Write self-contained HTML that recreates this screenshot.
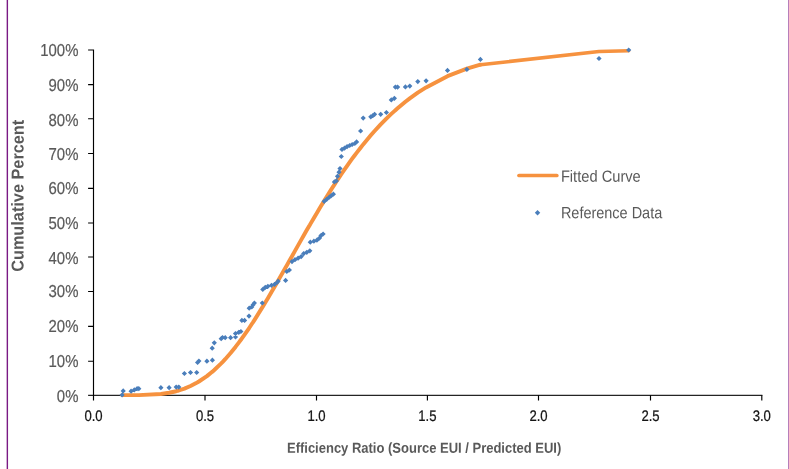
<!DOCTYPE html>
<html lang="en"><head><meta charset="utf-8"><title>Efficiency Ratio Cumulative Distribution</title>
<style>html,body{margin:0;padding:0;background:#fff}body{width:789px;height:469px;overflow:hidden}svg{display:block}text{font-family:"Liberation Sans",Arial,sans-serif}</style></head><body>
<svg width="789" height="469" viewBox="0 0 789 469">
<rect x="0" y="0" width="789" height="469" fill="#ffffff"/>
<rect x="6.65" y="0" width="1.4" height="469" fill="#7a1a84"/>
<rect x="788" y="0" width="1" height="469" fill="#b57fbb"/>
<path d="M88.1,395.3H762.4" fill="none" stroke="#242424" stroke-width="1.35"/>
<path d="M93.5,49.4V400.6M88.1,361.20H93.5M88.1,326.35H93.5M88.1,291.45H93.5M88.1,256.95H93.5M88.1,223.00H93.5M88.1,188.40H93.5M88.1,153.45H93.5M88.1,118.75H93.5M88.1,84.65H93.5M88.1,50.00H93.5M205.00,395.3V400.6M316.50,395.3V400.6M427.40,395.3V400.6M538.50,395.3V400.6M650.50,395.3V400.6M761.80,395.3V400.6" fill="none" stroke="#000" stroke-width="1.15"/>
<text transform="translate(78.4,402.00) rotate(0.03) scale(0.862,1)" font-size="17.30" fill="#595959" stroke="#595959" stroke-width="0.2" text-anchor="end">0%</text>
<text transform="translate(78.4,367.00) rotate(0.03) scale(0.862,1)" font-size="17.30" fill="#595959" stroke="#595959" stroke-width="0.2" text-anchor="end">10%</text>
<text transform="translate(78.4,332.00) rotate(0.03) scale(0.862,1)" font-size="17.30" fill="#595959" stroke="#595959" stroke-width="0.2" text-anchor="end">20%</text>
<text transform="translate(78.4,297.00) rotate(0.03) scale(0.862,1)" font-size="17.30" fill="#595959" stroke="#595959" stroke-width="0.2" text-anchor="end">30%</text>
<text transform="translate(78.4,264.00) rotate(0.03) scale(0.862,1)" font-size="17.30" fill="#595959" stroke="#595959" stroke-width="0.2" text-anchor="end">40%</text>
<text transform="translate(78.4,229.00) rotate(0.03) scale(0.862,1)" font-size="17.30" fill="#595959" stroke="#595959" stroke-width="0.2" text-anchor="end">50%</text>
<text transform="translate(78.4,194.00) rotate(0.03) scale(0.862,1)" font-size="17.30" fill="#595959" stroke="#595959" stroke-width="0.2" text-anchor="end">60%</text>
<text transform="translate(78.4,160.00) rotate(0.03) scale(0.862,1)" font-size="17.30" fill="#595959" stroke="#595959" stroke-width="0.2" text-anchor="end">70%</text>
<text transform="translate(78.4,126.00) rotate(0.03) scale(0.862,1)" font-size="17.30" fill="#595959" stroke="#595959" stroke-width="0.2" text-anchor="end">80%</text>
<text transform="translate(78.4,91.00) rotate(0.03) scale(0.862,1)" font-size="17.30" fill="#595959" stroke="#595959" stroke-width="0.2" text-anchor="end">90%</text>
<text transform="translate(78.4,56.00) rotate(0.03) scale(0.862,1)" font-size="17.30" fill="#595959" stroke="#595959" stroke-width="0.2" text-anchor="end">100%</text>
<text transform="translate(93.50,421.00) rotate(0.03) scale(0.858,1)" font-size="15.30" fill="#151515" stroke="#151515" stroke-width="0.25" text-anchor="middle">0.0</text>
<text transform="translate(205.00,421.00) rotate(0.03) scale(0.858,1)" font-size="15.30" fill="#151515" stroke="#151515" stroke-width="0.25" text-anchor="middle">0.5</text>
<text transform="translate(316.50,421.00) rotate(0.03) scale(0.858,1)" font-size="15.30" fill="#151515" stroke="#151515" stroke-width="0.25" text-anchor="middle">1.0</text>
<text transform="translate(427.40,421.00) rotate(0.03) scale(0.858,1)" font-size="15.30" fill="#151515" stroke="#151515" stroke-width="0.25" text-anchor="middle">1.5</text>
<text transform="translate(538.50,421.00) rotate(0.03) scale(0.858,1)" font-size="15.30" fill="#151515" stroke="#151515" stroke-width="0.25" text-anchor="middle">2.0</text>
<text transform="translate(650.50,421.00) rotate(0.03) scale(0.858,1)" font-size="15.30" fill="#151515" stroke="#151515" stroke-width="0.25" text-anchor="middle">2.5</text>
<text transform="translate(761.80,421.00) rotate(0.03) scale(0.858,1)" font-size="15.30" fill="#151515" stroke="#151515" stroke-width="0.25" text-anchor="middle">3.0</text>
<text transform="translate(424.1,452.7) rotate(0.03) scale(0.903,1)" font-size="14.40" font-weight="bold" fill="#595959" text-anchor="middle">Efficiency Ratio (Source EUI / Predicted EUI)</text>
<text transform="translate(23.6,195.8) rotate(-89.97) scale(0.947,1)" font-size="17.20" font-weight="bold" fill="#595959" text-anchor="middle">Cumulative Percent</text>
<path d="M480.4,64.7 L599.0,51.5 L628.7,50.8" fill="none" stroke="#f6923f" stroke-width="3.5" stroke-linecap="round" stroke-linejoin="round"/>
<path d="M122.1,395.1 L123.2,395.1 L131.1,395.1 L134.3,395.1 L137.1,395.1 L138.8,395.1 L160.9,394.0 L169.1,392.8 L176.2,391.2 L178.8,390.5 L184.4,388.6 L190.5,386.0 L196.7,382.8 L197.6,382.3 L198.9,381.5 L206.9,376.1 L212.2,371.8 L212.4,371.7 L214.3,370.0 L221.2,363.4 L222.5,362.1 L225.2,359.2 L230.6,353.0 L235.5,346.9 L238.8,342.6 L240.9,339.8 L241.9,338.4 L244.6,334.6 L249.0,328.3 L249.2,328.0 L251.8,324.0 L253.1,322.1 L254.4,320.1 L262.3,307.4 L262.8,306.6 L265.3,302.5 L267.9,298.2 L271.5,292.0 L274.6,286.7 L277.1,282.4 L278.1,280.6 L285.6,267.5 L286.8,265.4 L289.4,260.8 L292.0,256.2 L295.0,250.9 L298.1,245.4 L301.2,239.9 L303.7,235.5 L306.8,230.1 L309.8,225.0 L310.3,224.1 L313.9,217.9 L316.9,212.9 L319.5,208.5 L321.0,206.0 L323.1,202.6 L324.2,200.8 L326.7,196.7 L329.3,192.6 L331.3,189.4 L333.4,186.2 L334.4,184.6 L336.4,181.5 L337.5,179.9 L339.0,177.6 L340.0,176.1 L341.3,174.2 L342.0,173.2 L344.6,169.4 L347.1,165.8 L349.7,162.2 L352.2,158.7 L354.8,155.2 L356.6,152.9 L360.6,147.7 L363.2,144.4 L370.8,135.3 L372.8,133.0 L374.6,131.0 L380.7,124.4 L386.4,118.6 L391.3,113.9 L394.4,111.1 L395.4,110.2 L397.6,108.3 L405.4,101.8 L409.8,98.4 L417.8,92.7 L426.1,87.4 L447.5,76.2 L466.9,68.7 L480.4,64.7" fill="none" stroke="#f6923f" stroke-width="3.95" stroke-linecap="round" stroke-linejoin="round"/>
<path d="M122.1,392.4l2.6,2.6l-2.6,2.6l-2.6,-2.6zM123.2,388.3l2.6,2.6l-2.6,2.6l-2.6,-2.6zM131.1,388.6l2.6,2.6l-2.6,2.6l-2.6,-2.6zM134.3,387.3l2.6,2.6l-2.6,2.6l-2.6,-2.6zM137.1,386.1l2.6,2.6l-2.6,2.6l-2.6,-2.6zM138.8,386.1l2.6,2.6l-2.6,2.6l-2.6,-2.6zM160.9,385.1l2.6,2.6l-2.6,2.6l-2.6,-2.6zM169.1,385.1l2.6,2.6l-2.6,2.6l-2.6,-2.6zM176.2,384.5l2.6,2.6l-2.6,2.6l-2.6,-2.6zM178.8,384.5l2.6,2.6l-2.6,2.6l-2.6,-2.6zM184.4,370.9l2.6,2.6l-2.6,2.6l-2.6,-2.6zM190.5,369.9l2.6,2.6l-2.6,2.6l-2.6,-2.6zM196.7,369.9l2.6,2.6l-2.6,2.6l-2.6,-2.6zM197.6,359.8l2.6,2.6l-2.6,2.6l-2.6,-2.6zM198.9,358.4l2.6,2.6l-2.6,2.6l-2.6,-2.6zM206.9,358.6l2.6,2.6l-2.6,2.6l-2.6,-2.6zM212.4,357.6l2.6,2.6l-2.6,2.6l-2.6,-2.6zM212.2,345.6l2.6,2.6l-2.6,2.6l-2.6,-2.6zM214.3,340.2l2.6,2.6l-2.6,2.6l-2.6,-2.6zM221.2,336.1l2.6,2.6l-2.6,2.6l-2.6,-2.6zM222.5,334.9l2.6,2.6l-2.6,2.6l-2.6,-2.6zM225.2,335.1l2.6,2.6l-2.6,2.6l-2.6,-2.6zM230.6,335.1l2.6,2.6l-2.6,2.6l-2.6,-2.6zM235.5,334.4l2.6,2.6l-2.6,2.6l-2.6,-2.6zM235.5,331.0l2.6,2.6l-2.6,2.6l-2.6,-2.6zM238.8,329.7l2.6,2.6l-2.6,2.6l-2.6,-2.6zM240.9,328.9l2.6,2.6l-2.6,2.6l-2.6,-2.6zM241.9,317.8l2.6,2.6l-2.6,2.6l-2.6,-2.6zM244.6,317.8l2.6,2.6l-2.6,2.6l-2.6,-2.6zM249.0,313.5l2.6,2.6l-2.6,2.6l-2.6,-2.6zM249.2,305.6l2.6,2.6l-2.6,2.6l-2.6,-2.6zM251.8,304.3l2.6,2.6l-2.6,2.6l-2.6,-2.6zM253.1,302.2l2.6,2.6l-2.6,2.6l-2.6,-2.6zM254.4,300.4l2.6,2.6l-2.6,2.6l-2.6,-2.6zM262.3,300.4l2.6,2.6l-2.6,2.6l-2.6,-2.6zM262.8,286.8l2.6,2.6l-2.6,2.6l-2.6,-2.6zM265.3,284.7l2.6,2.6l-2.6,2.6l-2.6,-2.6zM267.9,283.7l2.6,2.6l-2.6,2.6l-2.6,-2.6zM271.5,282.7l2.6,2.6l-2.6,2.6l-2.6,-2.6zM274.6,281.7l2.6,2.6l-2.6,2.6l-2.6,-2.6zM277.1,279.9l2.6,2.6l-2.6,2.6l-2.6,-2.6zM278.1,278.6l2.6,2.6l-2.6,2.6l-2.6,-2.6zM285.6,277.8l2.6,2.6l-2.6,2.6l-2.6,-2.6zM286.8,268.9l2.6,2.6l-2.6,2.6l-2.6,-2.6zM289.4,267.4l2.6,2.6l-2.6,2.6l-2.6,-2.6zM292.0,259.0l2.6,2.6l-2.6,2.6l-2.6,-2.6zM295.0,257.1l2.6,2.6l-2.6,2.6l-2.6,-2.6zM298.1,255.6l2.6,2.6l-2.6,2.6l-2.6,-2.6zM301.2,254.0l2.6,2.6l-2.6,2.6l-2.6,-2.6zM303.7,251.0l2.6,2.6l-2.6,2.6l-2.6,-2.6zM306.8,249.7l2.6,2.6l-2.6,2.6l-2.6,-2.6zM309.8,248.2l2.6,2.6l-2.6,2.6l-2.6,-2.6zM310.3,239.6l2.6,2.6l-2.6,2.6l-2.6,-2.6zM313.9,238.6l2.6,2.6l-2.6,2.6l-2.6,-2.6zM316.9,237.6l2.6,2.6l-2.6,2.6l-2.6,-2.6zM319.5,235.5l2.6,2.6l-2.6,2.6l-2.6,-2.6zM321.0,233.0l2.6,2.6l-2.6,2.6l-2.6,-2.6zM323.1,231.4l2.6,2.6l-2.6,2.6l-2.6,-2.6zM324.2,198.7l2.6,2.6l-2.6,2.6l-2.6,-2.6zM326.7,196.7l2.6,2.6l-2.6,2.6l-2.6,-2.6zM329.3,194.6l2.6,2.6l-2.6,2.6l-2.6,-2.6zM331.3,193.1l2.6,2.6l-2.6,2.6l-2.6,-2.6zM333.4,191.6l2.6,2.6l-2.6,2.6l-2.6,-2.6zM334.4,179.3l2.6,2.6l-2.6,2.6l-2.6,-2.6zM336.4,178.3l2.6,2.6l-2.6,2.6l-2.6,-2.6zM337.5,173.7l2.6,2.6l-2.6,2.6l-2.6,-2.6zM339.0,169.6l2.6,2.6l-2.6,2.6l-2.6,-2.6zM340.0,166.0l2.6,2.6l-2.6,2.6l-2.6,-2.6zM341.3,153.9l2.6,2.6l-2.6,2.6l-2.6,-2.6zM342.0,146.8l2.6,2.6l-2.6,2.6l-2.6,-2.6zM344.6,145.5l2.6,2.6l-2.6,2.6l-2.6,-2.6zM347.1,144.0l2.6,2.6l-2.6,2.6l-2.6,-2.6zM349.7,142.9l2.6,2.6l-2.6,2.6l-2.6,-2.6zM352.2,141.9l2.6,2.6l-2.6,2.6l-2.6,-2.6zM354.8,140.9l2.6,2.6l-2.6,2.6l-2.6,-2.6zM356.6,139.3l2.6,2.6l-2.6,2.6l-2.6,-2.6zM360.6,128.4l2.6,2.6l-2.6,2.6l-2.6,-2.6zM363.2,115.5l2.6,2.6l-2.6,2.6l-2.6,-2.6zM370.8,114.2l2.6,2.6l-2.6,2.6l-2.6,-2.6zM372.8,113.1l2.6,2.6l-2.6,2.6l-2.6,-2.6zM374.6,111.7l2.6,2.6l-2.6,2.6l-2.6,-2.6zM380.7,111.7l2.6,2.6l-2.6,2.6l-2.6,-2.6zM386.4,109.9l2.6,2.6l-2.6,2.6l-2.6,-2.6zM391.3,97.3l2.6,2.6l-2.6,2.6l-2.6,-2.6zM394.4,95.7l2.6,2.6l-2.6,2.6l-2.6,-2.6zM395.4,84.5l2.6,2.6l-2.6,2.6l-2.6,-2.6zM397.6,84.5l2.6,2.6l-2.6,2.6l-2.6,-2.6zM405.4,84.3l2.6,2.6l-2.6,2.6l-2.6,-2.6zM409.8,83.5l2.6,2.6l-2.6,2.6l-2.6,-2.6zM417.8,79.0l2.6,2.6l-2.6,2.6l-2.6,-2.6zM426.1,78.2l2.6,2.6l-2.6,2.6l-2.6,-2.6zM447.5,67.8l2.6,2.6l-2.6,2.6l-2.6,-2.6zM466.9,66.8l2.6,2.6l-2.6,2.6l-2.6,-2.6zM480.4,56.8l2.6,2.6l-2.6,2.6l-2.6,-2.6zM599.0,55.9l2.6,2.6l-2.6,2.6l-2.6,-2.6zM628.7,47.4l2.6,2.6l-2.6,2.6l-2.6,-2.6z" fill="#4a7ebb"/>
<path d="M519,175.5H556.8" fill="none" stroke="#f6923f" stroke-width="3.7" stroke-linecap="round"/>
<path d="M537.55,210.1l2.7,2.7l-2.7,2.7l-2.7,-2.7z" fill="#4a7ebb"/>
<text transform="translate(560.9,181.7) rotate(0.03) scale(0.900,1)" font-size="16.30" fill="#595959">Fitted Curve</text>
<text transform="translate(560.9,218.3) rotate(0.03) scale(0.888,1)" font-size="16.30" fill="#595959">Reference Data</text>
</svg></body></html>
